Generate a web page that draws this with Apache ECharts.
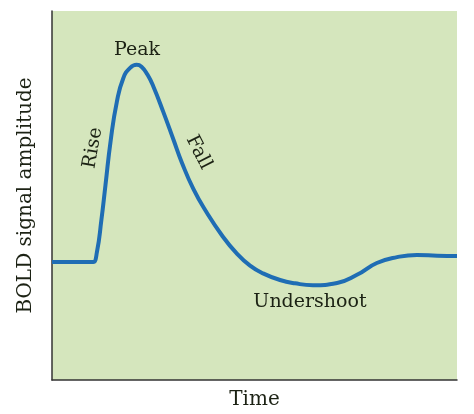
<!DOCTYPE html>
<html>
<head>
<meta charset="utf-8">
<script src="https://cdn.jsdelivr.net/npm/echarts@6/dist/echarts.min.js"></script>
<style>html,body{margin:0;padding:0;background:#fff}#c{width:474px;height:414px}</style>
</head>
<body>
<div id="c"></div>
<script>
// Time (arbitrary units, 0-100) and BOLD amplitude (arbitrary units, 0-100)
var timePoints = [0, 5, 9.4, 10.2, 11.1, 12.2, 13.2, 14.5, 16.0, 17.6, 19.3, 20.9, 22.1, 23.6, 25.0, 27.5, 30.0, 32.0, 34.9, 38.2, 41.9, 45.6, 48.9, 52.1, 56.3, 60.0, 64.4, 70.4, 75.3, 80.2, 85.2, 90.1, 95.1, 100];
var boldValues = [32.0, 32.0, 32.0, 32.0, 34.7, 43.4, 52.8, 65.0, 75.3, 81.8, 84.6, 85.4, 84.9, 82.7, 79.6, 72.6, 65.1, 59.1, 51.8, 45.4, 39.3, 34.3, 31.0, 28.9, 27.1, 26.2, 25.7, 26.3, 28.5, 31.7, 33.3, 33.9, 33.7, 33.6];
var annotationTexts = ['Peak', 'Rise', 'Fall', 'Undershoot'];
var annotationTime = [21.0, 10.1, 36.2, 63.7];
var annotationValue = [89.4, 62.9, 61.7, 21.1];
var annotationRotate = [0, 80, -63, 0];
var xAxisName = 'Time';
var yAxisName = 'BOLD signal amplitude';

var lineData = timePoints.map(function (t, i) { return [t, boldValues[i]]; });
var annData = annotationTexts.map(function (s, i) {
  return { value: [annotationTime[i], annotationValue[i]], name: s,
    label: { rotate: annotationRotate[i] } };
});
var serif = '"DejaVu Serif", "Liberation Serif", serif';
var textColor = '#1c2214';
var chart = echarts.init(document.getElementById('c'));
chart.setOption({
  animation: false,
  grid: { left: 52, right: 17, top: 11, bottom: 34, show: true, backgroundColor: '#d5e6bd', borderWidth: 0, outerBoundsMode: 'none', containLabel: false },
  xAxis: {
    type: 'value', min: 0, max: 100,
    name: xAxisName, nameLocation: 'middle', nameGap: 10,
    nameTextStyle: { fontFamily: serif, fontSize: 20, color: textColor },
    axisLine: { show: true, lineStyle: { color: '#333', width: 1.5 } },
    axisTick: { show: false }, axisLabel: { show: false }, splitLine: { show: false }
  },
  yAxis: {
    type: 'value', min: 0, max: 100,
    name: yAxisName, nameLocation: 'middle', nameGap: 16, nameRotate: 90,
    nameTextStyle: { fontFamily: serif, fontSize: 20, color: textColor },
    axisLine: { show: true, lineStyle: { color: '#333', width: 1.5 } },
    axisTick: { show: false }, axisLabel: { show: false }, splitLine: { show: false }
  },
  series: [
    {
      type: 'line', data: lineData, smooth: 0.5, showSymbol: false,
      lineStyle: { color: '#1f6db4', width: 4 }
    },
    {
      type: 'scatter', data: annData, symbolSize: 0, silent: true,
      itemStyle: { opacity: 1 },
      label: { show: true, position: 'inside', formatter: '{b}',
        fontFamily: serif, fontSize: 19, color: textColor, opacity: 1 }
    }
  ]
});
</script>
</body>
</html>
